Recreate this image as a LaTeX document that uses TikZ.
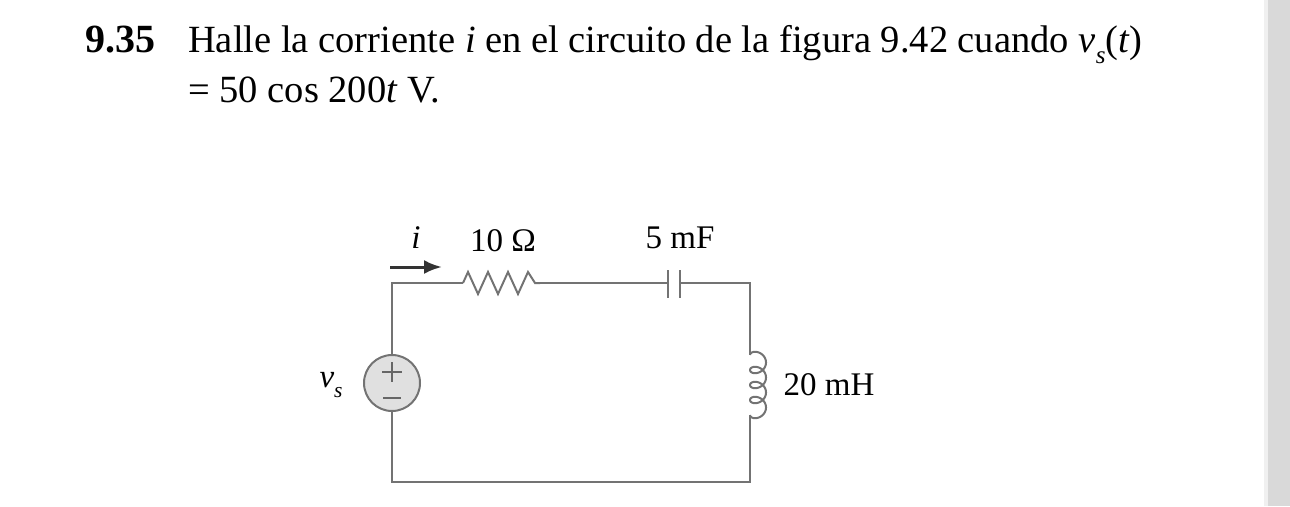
\documentclass[tikz,border=0pt]{standalone}
\usepackage{fontspec}
\setmainfont{Liberation Serif}
\usetikzlibrary{arrows.meta}
\newcommand{\mysub}[1]{\raisebox{-0.3em}{\scalebox{0.65}{\textit{#1}}}}
\begin{document}
\begin{tikzpicture}[x=1pt,y=-1pt,
  wire/.style={draw=black!55,line width=2pt},
  lbl/.style={font=\fontsize{33}{33}\selectfont,inner sep=0pt},
  ttl/.style={font=\fontsize{38.5}{38.5}\selectfont,inner sep=0pt,anchor=base west}]
\useasboundingbox (0,0) rectangle (1290,506);
\fill[black!15] (1268,0) rectangle (1290,506);
\fill[black!6] (1264,0) rectangle (1268,506);
% title
\node[ttl,font=\fontsize{40}{40}\selectfont] (num) at (85,52) {\textbf{9.35}};
\node[ttl] (l1) at (188,52) {Halle la corriente \textit{i} en el circuito de la figura 9.42 cuando \textit{v}\mysub{s}(\textit{t})};
\node[ttl] (l2) at (188,102) {= 50 cos 200\textit{t} V.};
% circuit coordinates
\coordinate (tl) at (392,283);
\coordinate (tr) at (750,283);
\coordinate (br) at (750,482);
\coordinate (bl) at (392,482);
\coordinate (r1) at (463,283);
\coordinate (r2) at (540,283);
\coordinate (c1) at (668,283);
\coordinate (c2) at (680,283);
\coordinate (ltop) at (750,355);
\coordinate (lbot) at (750,415);
\node[circle,draw=black!55,line width=2pt,fill=black!12,minimum size=56pt,inner sep=0pt] (vs) at (392,383) {};
\draw[wire] (vs.north) -- (tl) -- (r1);
\draw[wire,line join=miter] (r1) -- ++(5,-11) -- ++(10,22) -- ++(10,-22) -- ++(10,22) -- ++(10,-22) -- ++(10,22) -- ++(10,-22) -- ++(7,11) -- (r2);
\draw[wire] (r2) -- (c1);
\draw[draw=black!55,line width=2pt] (668,270) -- (668,298) (680,270) -- (680,298);
\draw[wire] (c2) -- (tr) -- (ltop);
\draw[wire] plot[domain=0:25.13,samples=300,smooth] ({750+8*(1-cos(\x r))},{355+2.387*\x-6.5*sin(\x r)});
\draw[wire] (lbot) -- (br) -- (bl) -- (vs.south);
\draw[black!60,line width=1.3pt] (392,362) -- (392,382) (382,372) -- (402,372) (383,398) -- (401,398);
% arrow
\coordinate (a1) at (390,267);
\coordinate (a2) at (442,267);
\draw[draw=black!80,line width=3pt,-{Latex[length=18pt,width=14pt]}] (a1) -- (a2);
% labels
\node[lbl] (li) at (416,238) {\textit{i}};
\node[lbl] (lr) at (503,241) {10 Ω};
\node[lbl] (lc) at (680,238) {5 mF};
\node[lbl] (ll) at (829,385) {20 mH};
\node[lbl] (lv) at (331,385) {\textit{v}\mysub{s}};
\end{tikzpicture}
\end{document}
